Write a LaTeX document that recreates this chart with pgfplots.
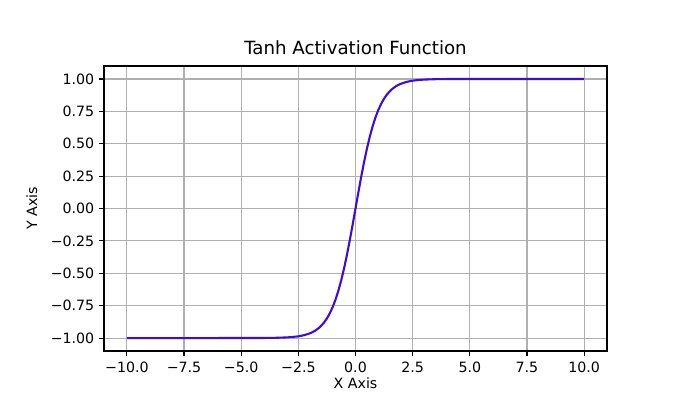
\documentclass[border=0pt]{standalone}
\usepackage{fontspec}
\setmainfont{DejaVu Sans}
\usepackage{pgfplots}
\pgfplotsset{compat=1.18}
\definecolor{linec}{RGB}{60,12,222}
\definecolor{gridc}{RGB}{176,176,176}
\begin{document}
\fontsize{13.9bp}{16bp}\selectfont
\begin{tikzpicture}[x=1bp,y=1bp]
\begin{axis}[
  at={(0,0)}, anchor=south west,
  scale only axis, width=503bp, height=285bp,
  xmin=-11, xmax=11, ymin=-1.1, ymax=1.1,
  xtick={-10,-7.5,-5,-2.5,0,2.5,5,7.5,10},
  xticklabels={−10.0,−7.5,−5.0,−2.5,0.0,2.5,5.0,7.5,10.0},
  ytick={-1,-0.75,-0.5,-0.25,0,0.25,0.5,0.75,1},
  yticklabels={−1.00,−0.75,−0.50,−0.25,0.00,0.25,0.50,0.75,1.00},
  tick align=outside, tick pos=left,
  major tick length=4.9bp,
  every tick/.style={black, line width=1.1bp},
  grid=major,
  major grid style={gridc, line width=1.1bp},
  axis line style={black, line width=1.1bp},
  xticklabel style={font=\fontsize{14.2bp}{16bp}\selectfont, yshift=-1bp},
  yticklabel style={font=\fontsize{14.2bp}{16bp}\selectfont},
  title={Tanh Activation Function},
  title style={font=\fontsize{18.2bp}{20bp}\selectfont, yshift=0bp},
  xlabel={X Axis}, ylabel={Y Axis},
  xlabel style={font=\fontsize{14.2bp}{16bp}\selectfont, yshift=4bp},
  ylabel style={font=\fontsize{14.2bp}{16bp}\selectfont, yshift=4bp},
]
\addplot[linec, line width=2.1bp] coordinates {
(-10,-1.0) (-8,-1.0) (-6,-0.99999) (-5,-0.99991) (-4.5,-0.99975) (-4,-0.99933)
(-3.5,-0.99818) (-3,-0.99505) (-2.75,-0.99186) (-2.5,-0.98661) (-2.25,-0.97803)
(-2,-0.96403) (-1.875,-0.95406) (-1.75,-0.94138) (-1.625,-0.92538) (-1.5,-0.90515)
(-1.375,-0.87993) (-1.25,-0.84828) (-1.125,-0.80933) (-1,-0.76159) (-0.875,-0.70389)
(-0.75,-0.63515) (-0.625,-0.55459) (-0.5,-0.46212) (-0.375,-0.35835) (-0.25,-0.24492)
(-0.125,-0.12435) (0,0)
(0.125,0.12435) (0.25,0.24492) (0.375,0.35835) (0.5,0.46212) (0.625,0.55459)
(0.75,0.63515) (0.875,0.70389) (1,0.76159) (1.125,0.80933) (1.25,0.84828)
(1.375,0.87993) (1.5,0.90515) (1.625,0.92538) (1.75,0.94138) (1.875,0.95406)
(2,0.96403) (2.25,0.97803) (2.5,0.98661) (2.75,0.99186) (3,0.99505)
(3.5,0.99818) (4,0.99933) (4.5,0.99975) (5,0.99991) (6,0.99999) (8,1.0) (10,1.0)
};
\end{axis}
\path[use as bounding box] (-104,-48) rectangle (573,351);
\end{tikzpicture}
\end{document}
